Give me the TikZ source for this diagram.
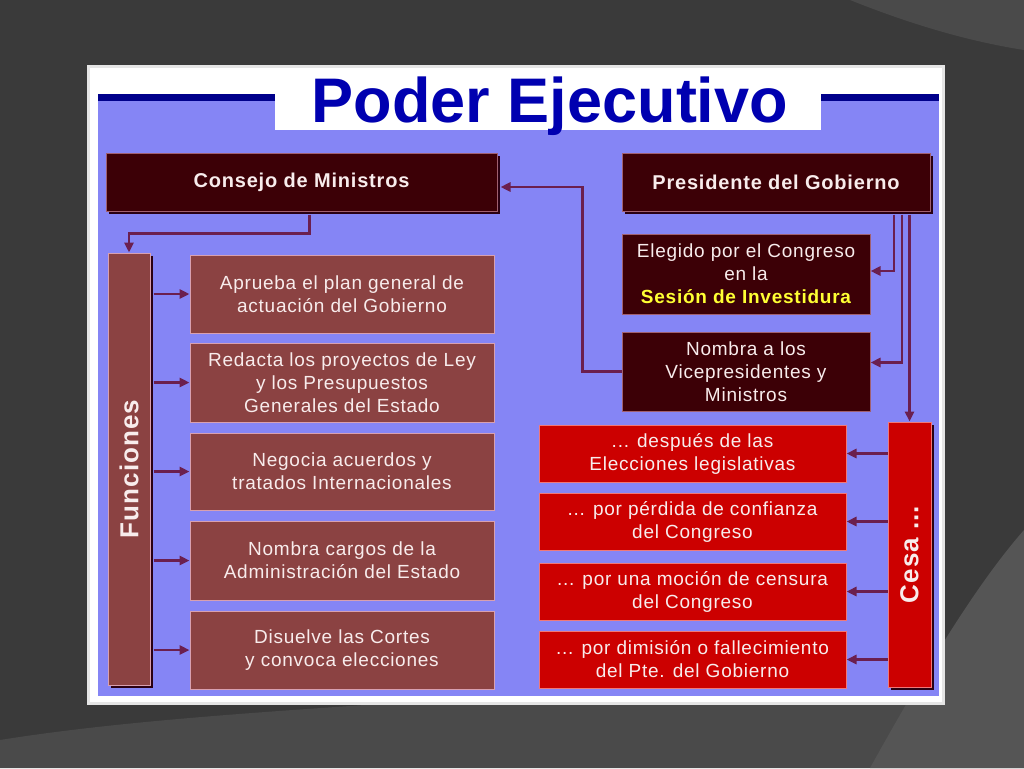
\documentclass[tikz,border=0pt]{standalone}
\usepackage{fontspec}
\setmainfont{Liberation Sans}
\newfontfamily\spacedfont{Liberation Sans}[LetterSpace=4]
\usetikzlibrary{arrows.meta,shadows}
\definecolor{bgdark}{HTML}{3A3A3A}
\definecolor{bglight}{HTML}{4A4A4A}
\definecolor{bglighter}{HTML}{555555}
\definecolor{lav}{HTML}{8585F5}
\definecolor{navyline}{HTML}{00008B}
\definecolor{titleblue}{HTML}{0000B0}
\definecolor{darkm}{HTML}{3C0006}
\definecolor{dborder}{HTML}{A06070}
\definecolor{funfill}{HTML}{8B4242}
\definecolor{funborder}{HTML}{D8A0B0}
\definecolor{redfill}{HTML}{CC0000}
\definecolor{redborder}{HTML}{F07878}
\definecolor{connc}{HTML}{6B1F4F}
\definecolor{shadowc}{HTML}{2A0012}
\definecolor{boxtext}{HTML}{F8ECEC}
\definecolor{yellowtext}{HTML}{FFFF33}
\begin{document}
\begin{tikzpicture}[x=1pt,y=-1pt,
  basebox/.style={align=center,inner sep=0pt,text=boxtext,line width=1pt},
  dbox/.style={basebox,draw=dborder,fill=darkm},
  fbox/.style={basebox,draw=funborder,fill=funfill},
  rbox/.style={basebox,draw=redborder,fill=redfill},
  shad/.style={drop shadow={shadow xshift=3pt,shadow yshift=-3pt,opacity=1,fill=shadowc}},
  txt/.style={font=\spacedfont\fontsize{19}{23}\selectfont},
  btxt/.style={font=\spacedfont\bfseries\fontsize{20}{23}\selectfont},
  conn/.style={draw=connc,line width=2.6pt,-{Triangle[length=10pt,width=9pt]}},
]
\useasboundingbox (0,0) rectangle (1024,768);
% slide background
\fill[bgdark] (0,0) rectangle (1024,768);
\fill[bglight] (0,768) -- (0,740) .. controls (250,700) and (600,705) .. (1024,640) -- (1024,768) -- cycle;
\fill[bglighter] (870,768) .. controls (930,660) and (980,580) .. (1024,530) -- (1024,768) -- cycle;
\fill[bglight] (850,0) .. controls (900,20) and (960,40) .. (1024,50) -- (1024,0) -- cycle;
% frame
\fill[white!90!black] (87,65) rectangle (945,705);
\fill[white] (90,68) rectangle (942,702);
\fill[lav] (98,94) rectangle (939,696);
\fill[navyline] (98,94) rectangle (939,101);
\fill[white] (275,68) rectangle (821,130);
\node[text=titleblue,font=\bfseries\fontsize{63}{63}\selectfont] (title) at (550,106) {Poder Ejecutivo};
% top boxes
\node[dbox,shad,btxt,minimum width=391pt,minimum height=58pt] (cm) at (301.5,182) {Consejo de Ministros};
\node[dbox,shad,btxt,minimum width=308pt,minimum height=58pt] (pg) at (776,182) {Presidente del Gobierno};
\node[dbox,txt,minimum width=248pt,minimum height=80pt] (el) at (746,274) {Elegido por el Congreso\\en la\\\textcolor{yellowtext}{\bfseries Sesión de Investidura}};
\node[dbox,txt,minimum width=248pt,minimum height=79pt] (nm) at (746,371.5) {Nombra a los\\Vicepresidentes y\\Ministros};
% funciones
\node[fbox,shad,minimum width=42pt,minimum height=432pt] (fun) at (129,469) {};
\node[rotate=90,text=boxtext,font=\spacedfont\bfseries\fontsize{26}{26}\selectfont] (funt) at (fun.center) {Funciones};
\node[fbox,txt,minimum width=304pt,minimum height=78pt] (f1) at (342,294) {Aprueba el plan general de\\actuación del Gobierno};
\node[fbox,txt,minimum width=304pt,minimum height=79pt] (f2) at (342,382.5) {Redacta los proyectos de Ley\\y los Presupuestos\\Generales del Estado};
\node[fbox,txt,minimum width=304pt,minimum height=77pt] (f3) at (342,471.5) {Negocia acuerdos y\\tratados Internacionales};
\node[fbox,txt,minimum width=304pt,minimum height=79pt] (f4) at (342,560.5) {Nombra cargos de la\\Administración del Estado};
\node[fbox,txt,minimum width=304pt,minimum height=78pt] (f5) at (342,650) {Disuelve las Cortes\\y convoca elecciones};
% cesa
\node[rbox,shad,minimum width=43pt,minimum height=265pt] (ces) at (909.5,554.5) {};
\node[rotate=90,text=boxtext,font=\spacedfont\bfseries\fontsize{26}{26}\selectfont] (cest) at (ces.center) {Cesa ...};
\node[rbox,txt,minimum width=307pt,minimum height=57pt] (r1) at (692.5,453.5) {... después de las\\Elecciones legislativas};
\node[rbox,txt,minimum width=307pt,minimum height=57pt] (r2) at (692.5,521.5) {... por pérdida de confianza\\del Congreso};
\node[rbox,txt,minimum width=307pt,minimum height=57pt] (r3) at (692.5,591.5) {... por una moción de censura\\del Congreso};
\node[rbox,txt,minimum width=307pt,minimum height=57pt] (r4) at (692.5,659.5) {... por dimisión o fallecimiento\\del Pte. del Gobierno};
% connectors
\draw[conn] ([xshift=8pt,yshift=-3pt]cm.south) -- ++(0,19) -| (fun.north);
\foreach \f in {f1,f2,f3,f4,f5}{
  \draw[conn] ([xshift=3pt]fun.east |- \f.west) -- (\f.west);
}
\draw[conn] ([xshift=118pt,yshift=-3pt]pg.south) |- ([yshift=3pt]el.east);
\draw[conn] ([xshift=126pt,yshift=-3pt]pg.south) |- ([yshift=9pt]nm.east);
\draw[conn] ([yshift=-3pt]pg.south -| ces.north) -- (ces.north);
\draw[conn] (nm.west) -- ++(-39,0) |- ([xshift=3pt,yshift=-5pt]cm.east);
\foreach \r in {r1,r2,r3,r4}{
  \draw[conn] (ces.west |- \r.east) -- (\r.east);
}
\end{tikzpicture}
\end{document}
